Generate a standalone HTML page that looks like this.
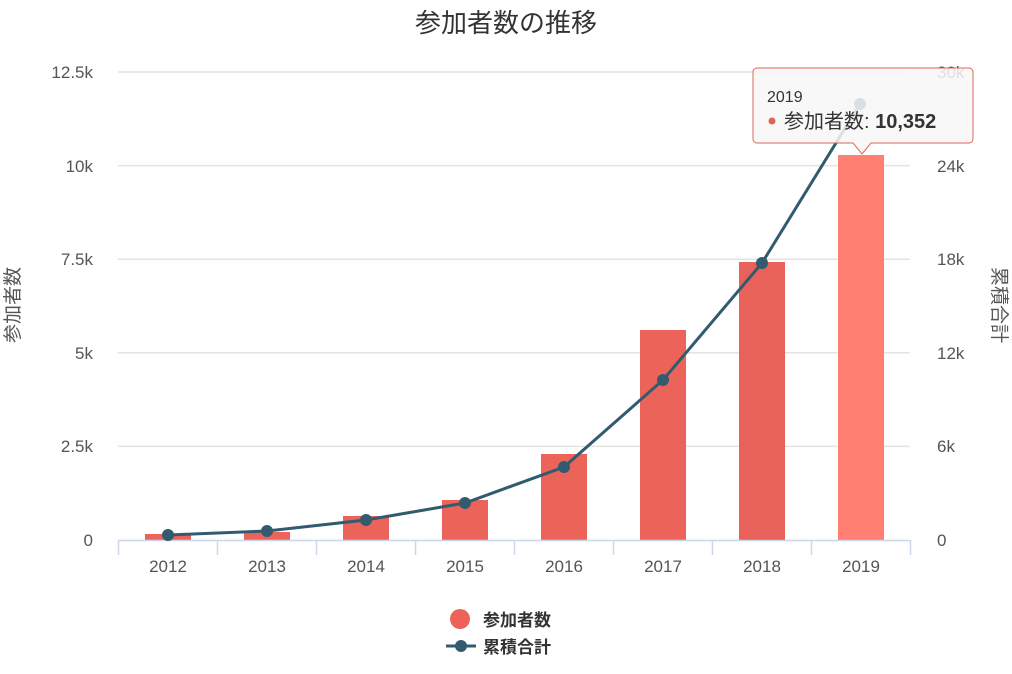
<!DOCTYPE html>
<html><head><meta charset="utf-8"><style>
body{margin:0;background:#fff;width:1012px;height:669px;overflow:hidden}
text{font-family:"Liberation Sans","Noto Sans CJK JP",sans-serif}
</style></head><body>
<svg width="1012" height="669" viewBox="0 0 1012 669">
<text x="506" y="32" text-anchor="middle" font-size="26" fill="#333">参加者数の推移</text>
<g stroke="#e3e3e3" stroke-width="1.5">
<line x1="118" x2="910" y1="72" y2="72"/><line x1="118" x2="910" y1="165.6" y2="165.6"/>
<line x1="118" x2="910" y1="259.2" y2="259.2"/><line x1="118" x2="910" y1="352.8" y2="352.8"/>
<line x1="118" x2="910" y1="446.4" y2="446.4"/>
</g>
<g font-size="17" fill="#555" text-anchor="end">
<text x="93" y="546">0</text><text x="93" y="452">2.5k</text><text x="93" y="359">5k</text>
<text x="93" y="265">7.5k</text><text x="93" y="172">10k</text><text x="93" y="78">12.5k</text>
</g>
<g font-size="17" fill="#555" text-anchor="start">
<text x="937" y="546">0</text><text x="937" y="452">6k</text><text x="937" y="359">12k</text>
<text x="937" y="265">18k</text><text x="937" y="172">24k</text><text x="937" y="78">30k</text>
</g>
<text transform="translate(19,305) rotate(-90)" text-anchor="middle" font-size="19" fill="#555">参加者数</text>
<text transform="translate(993,305) rotate(90)" text-anchor="middle" font-size="19" fill="#555">累積合計</text>
<g fill="#ec6459">
<rect x="145" y="534" width="46" height="6"/>
<rect x="244" y="532" width="46" height="8"/>
<rect x="343" y="516" width="46" height="24"/>
<rect x="442" y="500" width="46" height="40"/>
<rect x="541" y="454" width="46" height="86"/>
<rect x="640" y="330" width="46" height="210"/>
<rect x="739" y="262" width="46" height="278" fill="#e8625a"/>
<rect x="838" y="155" width="46" height="385" fill="#ff7f73"/>
</g>
<line x1="118" x2="910" y1="540.5" y2="540.5" stroke="#ccd6eb" stroke-width="1.5"/>
<g stroke="#ccd6eb" stroke-width="1.5">
<line x1="118.5" x2="118.5" y1="540" y2="555"/><line x1="217.5" x2="217.5" y1="540" y2="555"/>
<line x1="316.5" x2="316.5" y1="540" y2="555"/><line x1="415.5" x2="415.5" y1="540" y2="555"/>
<line x1="514.5" x2="514.5" y1="540" y2="555"/><line x1="613.5" x2="613.5" y1="540" y2="555"/>
<line x1="712.5" x2="712.5" y1="540" y2="555"/><line x1="811.5" x2="811.5" y1="540" y2="555"/>
<line x1="910.5" x2="910.5" y1="540" y2="555"/>
</g>
<g font-size="17" fill="#555" text-anchor="middle">
<text x="168" y="572">2012</text><text x="267" y="572">2013</text><text x="366" y="572">2014</text>
<text x="465" y="572">2015</text><text x="564" y="572">2016</text><text x="663" y="572">2017</text>
<text x="762" y="572">2018</text><text x="861" y="572">2019</text>
</g>
<polyline fill="none" stroke="#325b70" stroke-width="3" points="168,535 267,531 366,520 465,503 564,467 663,380 762,263 860,104"/>
<g fill="#325b70">
<circle cx="168" cy="535" r="6"/><circle cx="267" cy="531" r="6"/><circle cx="366" cy="520" r="6"/>
<circle cx="465" cy="503" r="6"/><circle cx="564" cy="467" r="6"/><circle cx="663" cy="380" r="6"/>
<circle cx="762" cy="263" r="6"/><circle cx="860" cy="104" r="6"/>
</g>
<path d="M757,68 H969 a4,4 0 0 1 4,4 V139 a4,4 0 0 1 -4,4 H871 L862,154 L853,143 H757 a4,4 0 0 1 -4,-4 V72 a4,4 0 0 1 4,-4 Z" fill="#f7f7f7" fill-opacity="0.85" stroke="#e0645a" stroke-width="1"/>
<text x="767" y="102" font-size="16" fill="#333">2019</text>
<circle cx="772" cy="121" r="3.5" fill="#e0645a"/>
<text x="784" y="128" font-size="20" fill="#333">参加者数: <tspan font-weight="bold">10,352</tspan></text>
<circle cx="460" cy="619" r="10" fill="#ec6459"/>
<text x="483" y="626" font-size="17" font-weight="bold" fill="#333">参加者数</text>
<line x1="446" x2="476" y1="646" y2="646" stroke="#325b70" stroke-width="3"/>
<circle cx="461" cy="646" r="6" fill="#325b70"/>
<text x="483" y="653" font-size="17" font-weight="bold" fill="#333">累積合計</text>
</svg>
</body></html>
